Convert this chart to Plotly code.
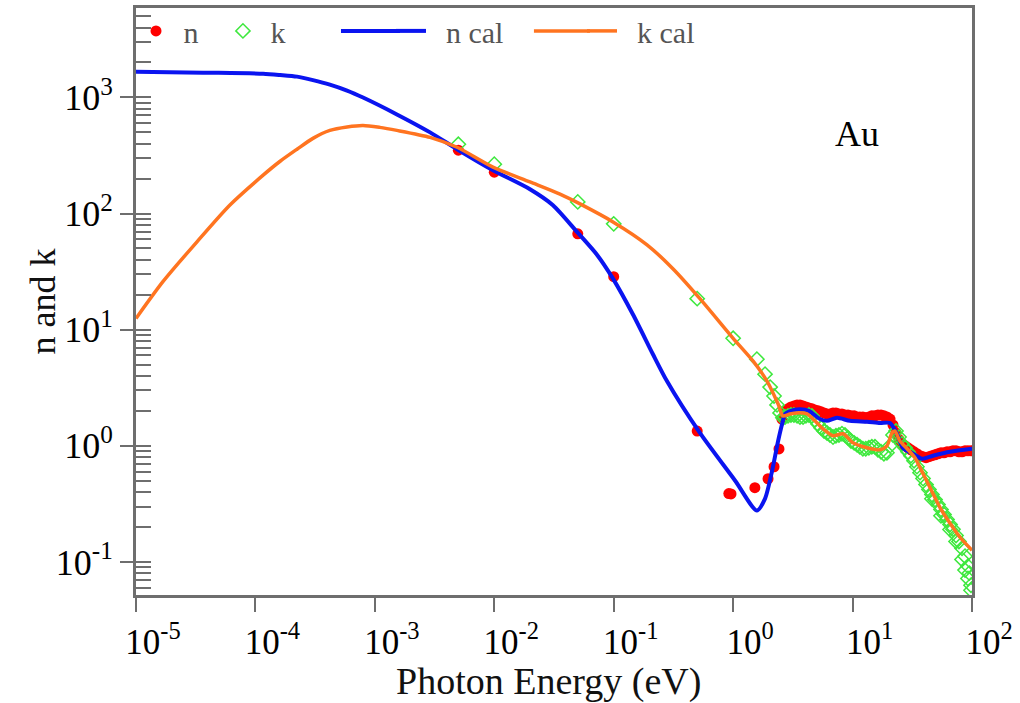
import plotly.graph_objects as go

# ---------------- data ----------------
E_n = [0.005, 0.01, 0.05, 0.1, 0.5, 0.92, 0.96, 1.52, 1.96, 2.20, 2.42,
       2.56, 2.72, 2.88, 3.05, 3.23, 3.43, 3.63, 3.85, 4.07, 4.31,
       4.57, 4.84, 5.14, 5.44, 5.77, 6.11, 6.47, 6.86, 7.26, 7.69,
       8.15, 8.64, 9.16, 9.70, 10.3, 10.9, 11.5, 12.2, 12.9, 13.7,
       14.5, 15.4, 16.3, 17.3, 18.3, 19.4, 20.6, 21.8, 23.1, 24.5,
       25.9, 27.5, 29.1, 30.8, 32.7, 34.6, 36.7, 38.9, 41.2, 43.6,
       46.2, 49.0, 51.9, 55.0, 58.3, 61.8, 65.5, 69.3, 73.5, 77.8,
       82.5, 87.4, 92.5, 98.1]
n_data = [351, 227, 66.9, 28.6, 1.34, 0.388, 0.385, 0.436, 0.52, 0.66, 0.94,
          1.70, 1.96, 2.08, 2.16, 2.20, 2.25, 2.25, 2.20, 2.16, 2.12,
          2.08, 2.03, 2.00, 1.96, 1.92, 1.88, 1.88, 1.92, 1.92, 1.88,
          1.88, 1.84, 1.84, 1.81, 1.81, 1.77, 1.77, 1.77, 1.74, 1.77,
          1.81, 1.81, 1.84, 1.84, 1.81, 1.77, 1.70, 1.51, 1.29, 1.13,
          1.04, 1.00, 0.961, 0.924, 0.888, 0.854, 0.821, 0.805, 0.789, 0.805,
          0.821, 0.837, 0.854, 0.871, 0.871, 0.888, 0.888, 0.906, 0.906, 0.888,
          0.888, 0.906, 0.906, 0.906]

E_k = [0.005, 0.01, 0.05, 0.1, 0.5, 1.0, 1.58, 1.85, 2.04, 2.20, 2.33, 2.47, 2.61,
       2.72, 2.88, 3.05, 3.23, 3.43, 3.63, 3.85, 4.07, 4.31, 4.57,
       4.84, 5.14, 5.44, 5.77, 6.11, 6.47, 6.86, 7.26, 7.69, 8.15,
       8.64, 9.16, 9.70, 10.3, 10.9, 11.5, 12.2, 12.9, 13.7, 14.5,
       15.4, 16.3, 17.3, 18.3, 19.4, 20.6, 21.8, 23.1, 24.5, 25.9,
       27.5, 29.1, 30.8, 32.7, 34.6, 36.7, 38.9, 41.2, 43.6, 46.2,
       49.0, 51.9, 55.0, 58.3, 61.8, 65.5, 69.3, 73.5, 77.8, 82.5,
       87.4, 92.5, 98.1,
       46.2, 55.0, 65.5, 73.5, 82.5, 87.4, 92.5, 95.0, 98.1]
k_data = [395, 266, 126, 81.5, 18.5, 8.42, 5.57, 4.14, 3.2, 2.68, 2.25, 1.92, 1.74,
          1.77, 1.81, 1.84, 1.84, 1.81, 1.77, 1.77, 1.81, 1.84, 1.81,
          1.67, 1.54, 1.43, 1.34, 1.29, 1.24, 1.19, 1.22, 1.24, 1.27,
          1.24, 1.17, 1.10, 1.06, 1.02, 0.98, 0.943, 0.943, 0.961, 0.98,
          0.98, 0.924, 0.888, 0.854, 0.871, 1.00, 1.24, 1.34, 1.19, 1.04,
          0.961, 0.888, 0.821, 0.744, 0.661, 0.587, 0.522, 0.463, 0.42, 0.38,
          0.344, 0.312, 0.283, 0.256, 0.232, 0.21, 0.191, 0.169, 0.150, 0.131,
          0.112, 0.092, 0.063,
          0.35, 0.25, 0.19, 0.15, 0.105, 0.085, 0.072, 0.080, 0.057]

E_ncal = [1e-5, 3.64e-5, 1.16e-4, 1.61e-4, 2.23e-4, 3.03e-4, 4.2e-4, 5.85e-4, 7.96e-4,
          1.53e-3, 2.9e-3, 4.88e-3, 9.75e-3,
          0.0199, 0.031, 0.0493, 0.0724, 0.0986, 0.145, 0.213, 0.279, 0.527, 1.04,
          1.58, 1.85, 2.12, 2.38, 2.57, 2.72, 2.99, 3.63, 4.31, 5.33, 6.11, 7.41,
          9.51, 13.2, 17.0, 20.6, 23.5, 26.4, 32.1, 38.1, 47.1, 65.5, 100]
n_cal = [1667, 1634, 1600, 1560, 1510, 1410, 1290, 1146, 998,
         714, 500, 358, 236,
         162, 118, 69.5, 44.2, 27.5, 13.5, 6.14, 3.61, 1.29, 0.50,
         0.277, 0.351, 0.61, 1.10, 1.54, 1.88, 1.99, 2.06, 2.00, 1.70, 1.64, 1.74,
         1.64, 1.61, 1.57, 1.57, 1.27, 0.96, 0.854, 0.774, 0.821, 0.888, 0.942]

E_kcal = [1e-5, 1.68e-5, 3.24e-5, 6.12e-5, 1.16e-4, 1.61e-4, 2.23e-4, 3.03e-4, 4.2e-4,
          5.85e-4, 7.96e-4, 1.10e-3, 1.53e-3, 2.9e-3,
          4.88e-3, 9.75e-3, 0.0199, 0.0355, 0.0522, 0.0986, 0.19, 0.313, 0.527, 1.0,
          1.47, 1.92, 2.38, 2.61, 2.99, 3.43, 4.15, 4.84, 5.65, 6.86,
          8.32, 10.1, 13.2, 17.0, 19.4, 21.4, 22.6, 24.9, 28.6, 33.3,
          36.7, 44.5, 54.0, 65.5, 79.3, 100]
k_cal = [12.5, 25.9, 57.1, 118.5, 214, 282, 358, 444, 520,
         557, 574, 552, 520, 453,
         372, 251, 187, 147, 121, 84.7, 53.8, 33.5, 18.5, 8.42,
         5.35, 3.61, 2.29, 1.81, 1.88, 1.92, 1.88, 1.64, 1.40, 1.22,
         1.27, 1.06, 0.961, 0.924, 1.0, 1.29, 1.34, 1.10, 0.943, 0.789,
         0.648, 0.437, 0.294, 0.215, 0.163, 0.126]

x_tick_exp = [-5, -4, -3, -2, -1, 0, 1, 2]
y_tick_exp = [-1, 0, 1, 2, 3]

# ---------------- styling ----------------
SERIF = "Liberation Serif"
FRAME = "#6e6e6e"
NB = "\u00a0"

fig = go.Figure()
fig.add_trace(go.Scatter(x=E_n, y=n_data, mode="markers", name=NB + "n",
                         marker=dict(symbol="circle", size=11, color="#ff0000",
                                     line=dict(width=0)),
                         legend="legend"))
fig.add_trace(go.Scatter(x=E_k, y=k_data, mode="markers", name=NB + "k",
                         marker=dict(symbol="diamond-open", size=11, color="#3ee83e",
                                     line=dict(width=1.5, color="#3ee83e")),
                         legend="legend2"))
fig.add_trace(go.Scatter(x=E_ncal, y=n_cal, mode="lines", name=NB + NB + "n cal",
                         line=dict(color="#0a14f0", width=4, shape="spline", smoothing=0.7),
                         legend="legend3"))
fig.add_trace(go.Scatter(x=E_kcal, y=k_cal, mode="lines", name=NB + NB + "k cal",
                         line=dict(color="#ff7420", width=3.5, shape="spline", smoothing=0.7),
                         legend="legend4"))

# overlay axis carrying the inside (minor) ticks of the y axis
minor_vals = []
for e in range(-2, 4):
    for m in range(1, 10):
        minor_vals.append(m * 10 ** e)
fig.add_trace(go.Scatter(x=[1e-5], y=[1], mode="markers", marker=dict(opacity=0),
                         yaxis="y2", showlegend=False, hoverinfo="skip"))

LEG_Y = 0.961
legend_common = dict(orientation="h", yanchor="middle", xanchor="left",
                     y=LEG_Y, bgcolor="rgba(0,0,0,0)",
                     font=dict(family=SERIF, size=30, color="#555555"))
LINE_Y = 0.961  # level of the legend sample lines (paper units)
fig.update_layout(
    width=1020, height=703,
    margin=dict(l=136, r=48, t=5, b=108),
    paper_bgcolor="white", plot_bgcolor="white",
    legend=dict(x=0.0, **legend_common),
    legend2=dict(x=0.104, **legend_common),
    legend3=dict(x=0.305, **legend_common),
    legend4=dict(x=0.5335, **legend_common),
    shapes=[
        dict(type="line", xref="paper", yref="paper", x0=0.2452, x1=0.3158,
             y0=LINE_Y, y1=LINE_Y, line=dict(color="#0a14f0", width=4)),
        dict(type="line", xref="paper", yref="paper", x0=0.476, x1=0.543,
             y0=LINE_Y, y1=LINE_Y, line=dict(color="#ff7420", width=3.5)),
    ],
    xaxis=dict(type="log", range=[-5, 2],
               tickvals=[10 ** e for e in x_tick_exp],
               ticktext=[f"10<sup>{e}</sup>" for e in x_tick_exp],
               ticks="outside", ticklen=14, tickwidth=2, tickcolor=FRAME,
               ticklabelshift=17,
               showline=True, linecolor=FRAME, linewidth=3, mirror=True,
               showgrid=False, zeroline=False,
               tickfont=dict(family=SERIF, size=35, color="black")),
    yaxis=dict(type="log", range=[-1.285, 3.77],
               tickvals=[10 ** e for e in y_tick_exp],
               ticktext=[f"10<sup>{e}</sup>" for e in y_tick_exp],
               ticks="outside", ticklen=13, tickwidth=2, tickcolor=FRAME,
               showline=True, linecolor=FRAME, linewidth=3, mirror=True,
               showgrid=False, zeroline=False,
               tickfont=dict(family=SERIF, size=36, color="black")),
    yaxis2=dict(type="log", range=[-1.285, 3.77], overlaying="y", side="left",
                tickvals=minor_vals, ticks="inside", ticklen=15, tickwidth=2,
                tickcolor=FRAME, showticklabels=False, showline=False,
                showgrid=False, zeroline=False),
    annotations=[
        dict(text="Photon Energy (eV)", xref="paper", yref="paper",
             x=0.494, y=-0.148, showarrow=False, xanchor="center", yanchor="middle",
             font=dict(family=SERIF, size=38, color="#111111")),
        dict(text="n and k", xref="paper", yref="paper", textangle=-90,
             x=-0.1124, y=0.5, showarrow=False, xanchor="center", yanchor="middle",
             font=dict(family=SERIF, size=36, color="#111111")),
        dict(text="Au", xref="paper", yref="paper",
             x=(857 - 136) / 836, y=(595 - 132) / 590, showarrow=False,
             xanchor="center", yanchor="middle",
             font=dict(family=SERIF, size=36, color="black")),
    ],
)

fig.write_html("out.html")
